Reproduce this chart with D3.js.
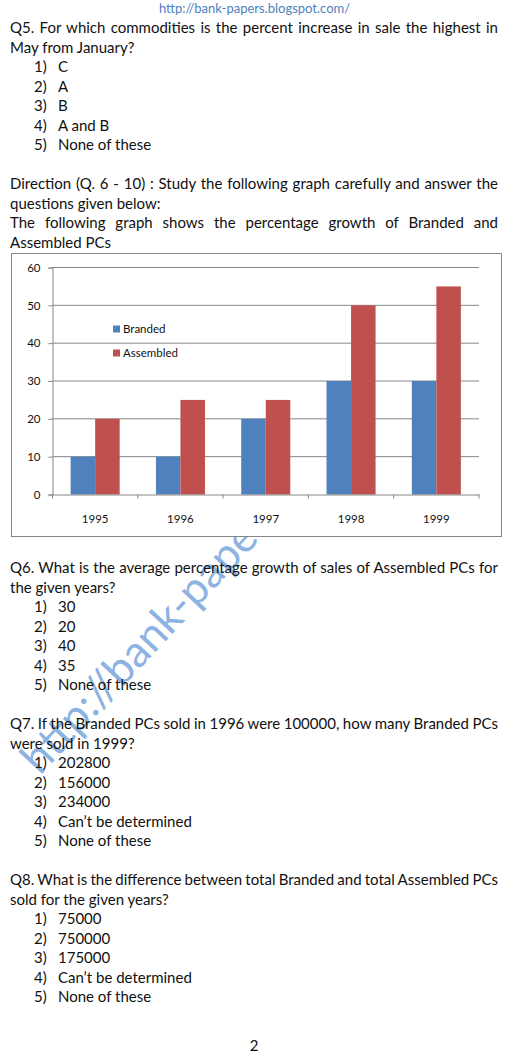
<!DOCTYPE html>
<html>
<head>
<meta charset="utf-8">
<script src="https://cdnjs.cloudflare.com/ajax/libs/d3/7.8.5/d3.min.js"></script>
<style>
  body { margin: 0; background: #fff; }
  svg text { font-family: Lato, "Open Sans", sans-serif; }
</style>
</head>
<body>
<script>
document.addEventListener('DOMContentLoaded', function () {

  // chart data
  const years = ['1995', '1996', '1997', '1998', '1999'];
  const branded = [10, 10, 20, 30, 30];
  const assembled = [20, 25, 25, 50, 55];
  const seriesNames = ['Branded', 'Assembled'];
  const yTicks = [0, 10, 20, 30, 40, 50, 60];

  // page text (each paragraph is a list of its lines as wrapped in the page)
  const q5 = ['Q5. For which commodities is the percent increase in sale the highest in', 'May from January?'];
  const q5opts = ['C', 'A', 'B', 'A and B', 'None of these'];
  const direction = ['Direction (Q. 6 - 10) : Study the following graph carefully and answer the', 'questions given below:'];
  const intro = ['The following graph shows the percentage growth of Branded and', 'Assembled PCs'];
  const q6 = ['Q6. What is the average percentage growth of sales of Assembled PCs for', 'the given years?'];
  const q6opts = ['30', '20', '40', '35', 'None of these'];
  const q7 = ['Q7. If the Branded PCs sold in 1996 were 100000, how many Branded PCs', 'were sold in 1999?'];
  const q7opts = ['202800', '156000', '234000', 'Can\u2019t be determined', 'None of these'];
  const q8 = ['Q8. What is the difference between total Branded and total Assembled PCs', 'sold for the given years?'];
  const q8opts = ['75000', '750000', '175000', 'Can\u2019t be determined', 'None of these'];

  const w = 509, h = 1056;
  const left = 10, right = 498;
  const lineH = 19.5;
  const fontSize = 15;

  const svg = d3.select('body').
  append('svg').
  attr('width', w).
  attr('height', h);

  // watermark sits under everything
  svg.append('text').
  attr('transform', 'translate(40,776) rotate(-47)').
  attr('font-size', 44).
  attr('fill', '#8db3e2').
  text('http://bank-papers.blogspot.com/');

  svg.append('text').
  attr('x', w / 2).
  attr('y', 12.5).
  attr('text-anchor', 'middle').
  attr('font-size', 13).
  attr('fill', '#4f81bd').
  text('http://bank-papers.blogspot.com/');

  const body = svg.append('g').attr('fill', '#111').attr('font-size', fontSize);

  // writes a paragraph, justifying every line except the last
  function para(lines, y0) {
    lines.forEach((ln, i) => {
      const t = body.append('text').attr('x', left).attr('y', y0 + i * lineH).text(ln);
      if (i < lines.length - 1) {
        const gaps = ln.split(' ').length - 1;
        const extra = (right - left - t.node().getComputedTextLength()) / gaps;
        t.style('word-spacing', extra + 'px');
      }
    });
    return y0 + lines.length * lineH;
  }

  function options(opts, y0) {
    opts.forEach((o, i) => {
      body.append('text').attr('x', 34).attr('y', y0 + i * lineH).text((i + 1) + ')');
      body.append('text').attr('x', 58).attr('y', y0 + i * lineH).text(o);
    });
    return y0 + opts.length * lineH;
  }

  let y = 33;
  y = para(q5, y);
  y = options(q5opts, y);
  y = para(direction, y + lineH);
  y = para(intro, y);

  y = 573;
  y = para(q6, y);
  y = options(q6opts, y);
  y = para(q7, y + lineH);
  y = options(q7opts, y);
  y = para(q8, y + lineH);
  y = options(q8opts, y);

  body.append('text').attr('x', 254).attr('y', 1051).attr('text-anchor', 'middle').text('2');

  // chart
  const box = svg.append('g');
  box.append('rect').
  attr('x', 11.5).attr('y', 253.5).
  attr('width', 490).attr('height', 283).
  attr('fill', '#fff').
  attr('stroke', '#868686');

  const x0 = d3.scaleBand().
  domain(years).
  range([52.5, 479]).
  paddingInner(0.425).
  paddingOuter(0.2125);

  const x1 = d3.scaleBand().
  domain(seriesNames).
  range([0, x0.bandwidth()]);

  const yScale = d3.scaleLinear().
  domain([0, 60]).
  range([494.5, 267.5]);

  // gridlines
  box.selectAll('line.grid').
  data(yTicks.slice(1)).
  enter().
  append('line').
  attr('class', 'grid').
  attr('x1', 52.5).attr('x2', 479).
  attr('y1', d => yScale(d)).attr('y2', d => yScale(d)).
  attr('stroke', '#868686');

  const rows = years.map((yr, i) => ({ year: yr, vals: [branded[i], assembled[i]] }));
  const colors = d3.scaleOrdinal().domain(seriesNames).range(['#4f81bd', '#c0504d']);

  box.selectAll('g.year').
  data(rows).
  enter().
  append('g').
  attr('transform', d => 'translate(' + x0(d.year) + ',0)').
  selectAll('rect').
  data(d => d.vals.map((v, j) => ({ name: seriesNames[j], v: v }))).
  enter().
  append('rect').
  attr('x', d => x1(d.name)).
  attr('width', x1.bandwidth()).
  attr('y', d => yScale(d.v)).
  attr('height', d => yScale(0) - yScale(d.v)).
  attr('fill', d => colors(d.name));

  const yAxis = d3.axisLeft(yScale).tickValues(yTicks).tickSize(4).tickPadding(8);
  const gy = box.append('g').
  attr('transform', 'translate(52.5,0)').
  call(yAxis);

  // x axis ticks fall between categories, so the labels get no tick of their own
  const xAxis = d3.axisBottom(x0).tickSize(0).tickPadding(20);
  const gx = box.append('g').
  attr('transform', 'translate(0,494.5)').
  call(xAxis);
  const step = x0.step();
  gx.selectAll('line.sep').
  data(d3.range(years.length + 1)).
  enter().
  append('line').
  attr('class', 'sep').
  attr('x1', i => 52.5 + i * step).attr('x2', i => 52.5 + i * step).
  attr('y1', 0).attr('y2', 4).
  attr('stroke', '#868686');

  [gx, gy].forEach(g => {
    g.select('.domain').attr('stroke', '#868686');
    g.selectAll('.tick line').attr('stroke', '#868686');
    g.selectAll('text').attr('font-size', 11.5).attr('fill', '#111').attr('font-family', 'Lato, sans-serif');
  });

  // legend
  const legend = box.selectAll('g.legend').
  data(seriesNames).
  enter().
  append('g').
  attr('transform', (d, i) => 'translate(113,' + (329 + i * 24) + ')');
  legend.append('rect').
  attr('x', 0).attr('y', -3.5).
  attr('width', 7).attr('height', 7).
  attr('fill', d => colors(d));
  legend.append('text').
  attr('x', 10).attr('y', 4).
  attr('font-size', 11.5).
  attr('fill', '#111').
  text(d => d);

});
</script>
</body>
</html>
